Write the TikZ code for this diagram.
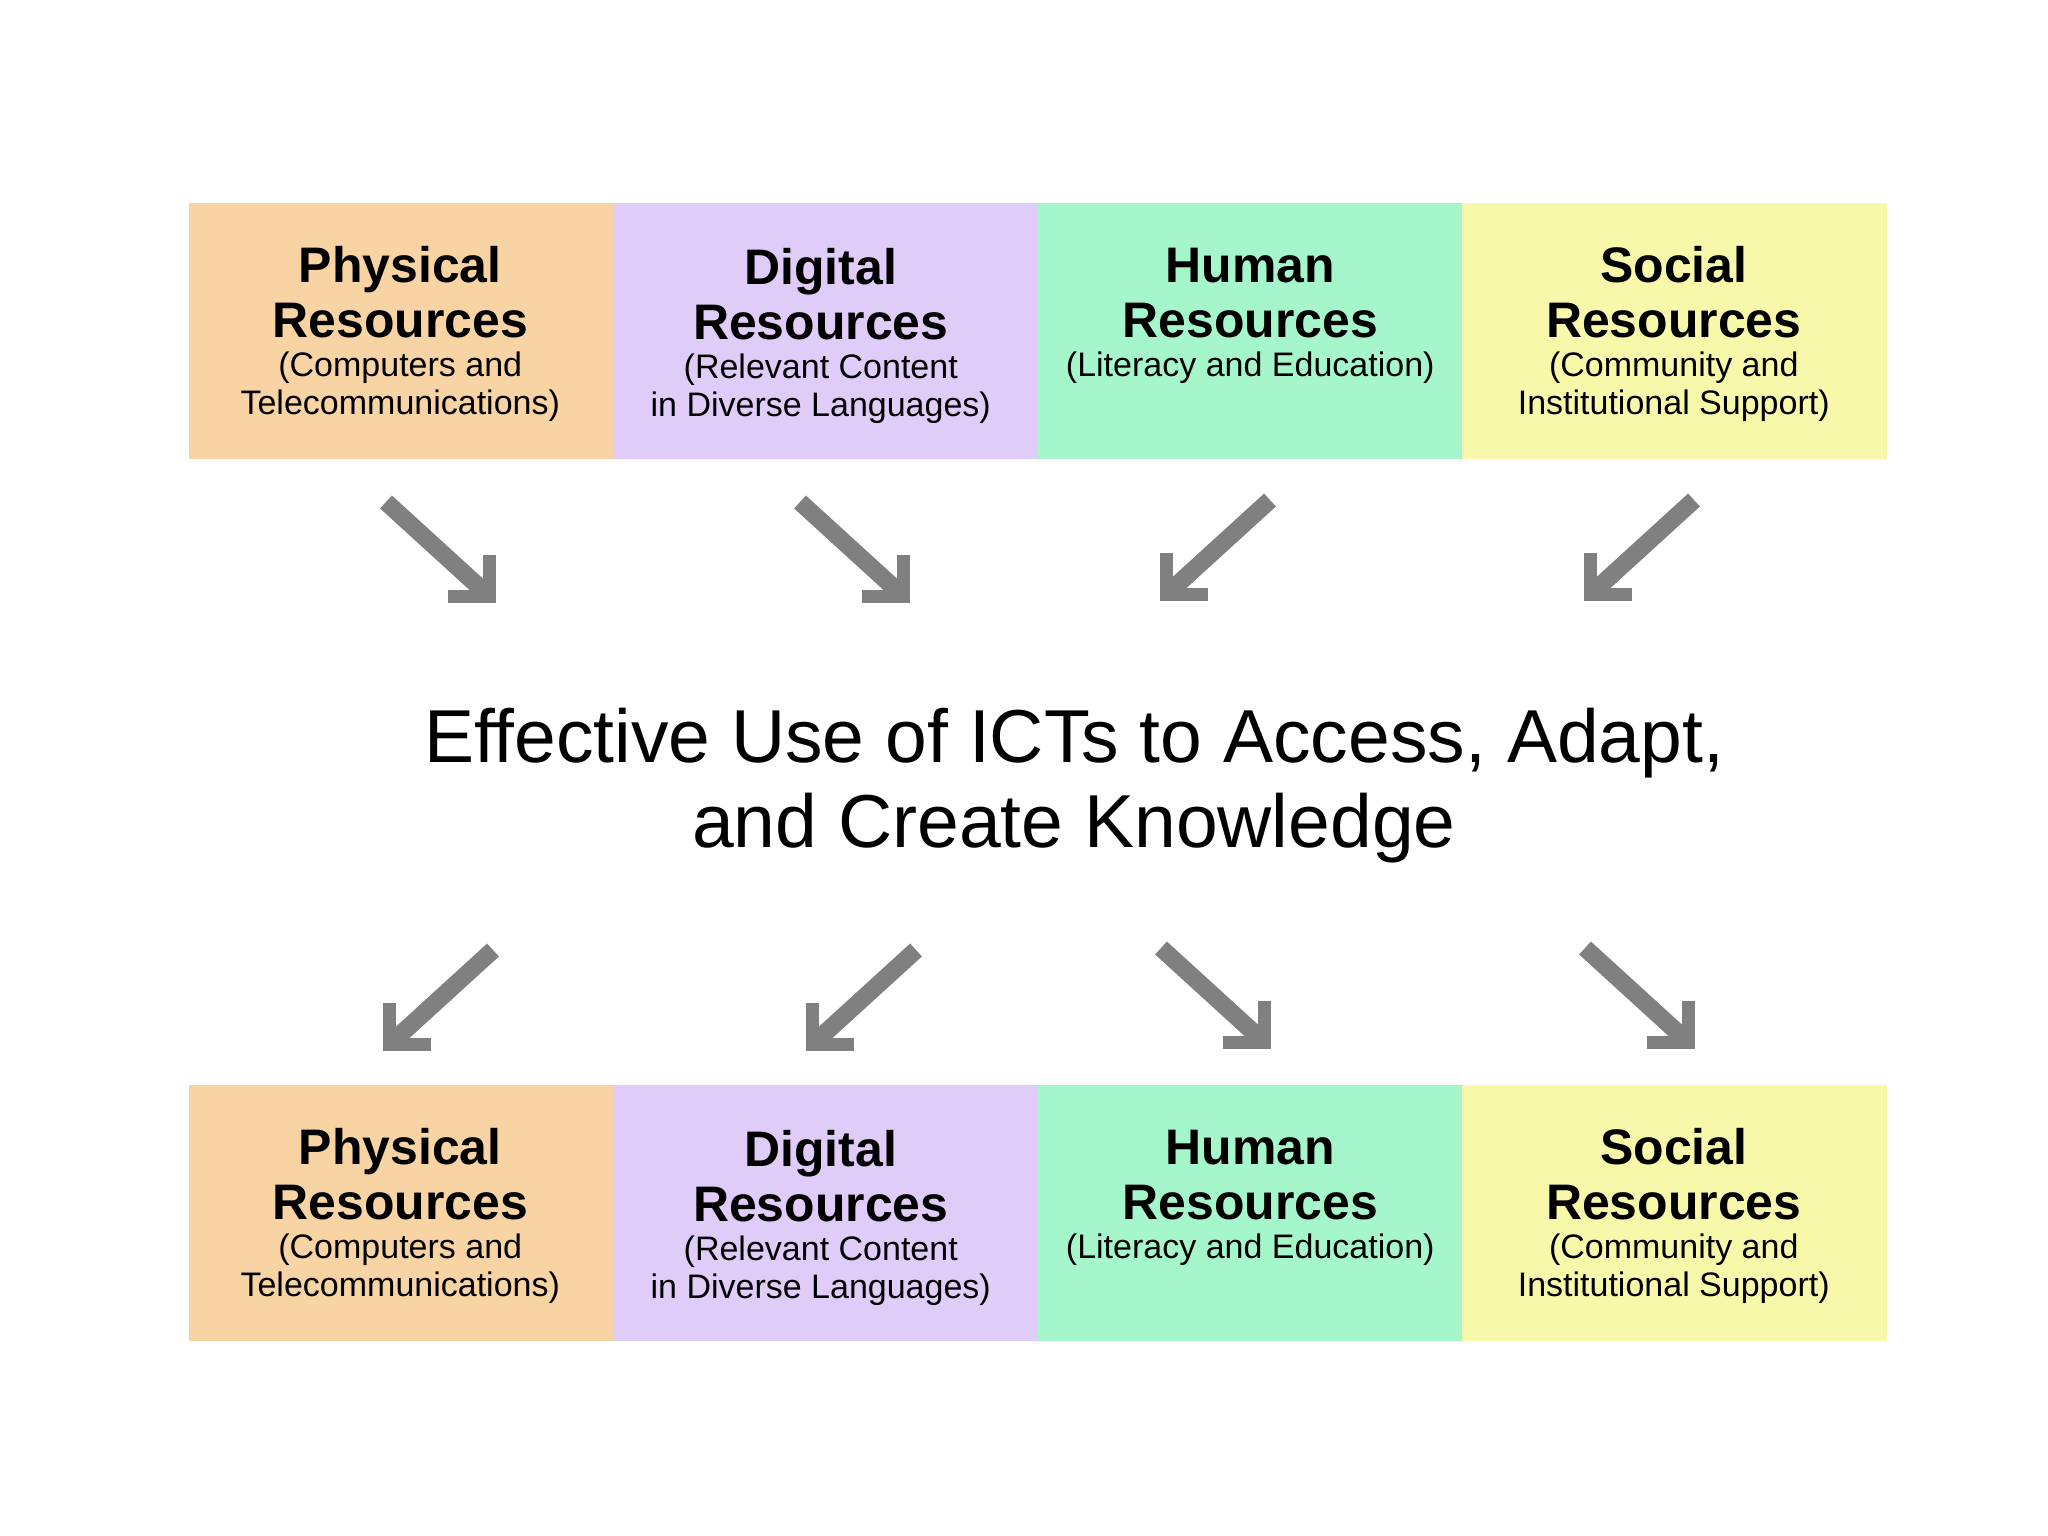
\documentclass[tikz,border=0pt]{standalone}
\usepackage{fontspec}
\setmainfont{Liberation Sans}
\usetikzlibrary{calc}
\definecolor{physcol}{RGB}{248,211,164}
\definecolor{digicol}{RGB}{224,204,248}
\definecolor{humacol}{RGB}{166,246,204}
\definecolor{socicol}{RGB}{248,248,170}
\definecolor{arrowgray}{RGB}{128,128,128}
\newcommand\resbox[9]{% name, x, y, text dx, text dy, colour, title1, title2, sub1
  \node[resrect, fill=#6] (#1) at (#2,#3) {};
  \node[titletext] (#1-t1) at ({#2+#4+212.25},{#3+#5+80}) {#7};
  \node[titletext] (#1-t2) at ({#2+#4+212.25},{#3+#5+135}) {#8};
  \node[subtext] (#1-s1) at ({#2+#4+212.25},{#3+#5+174}) {#9};
}
\newcommand\subtwo[2]{%
  \path (#1-s1.base) ++(0,38) node[subtext] (#1-s2) {#2};
}
\newcommand\searr[3]{% name, outer tip x, outer tip y
  \coordinate (#1-s) at ({#2-110},{#3-101});
  \coordinate (#1-e) at ({#2-8},{#3-8});
  \coordinate (#1-tip) at ({#2-6.5},{#3-6.5});
  \draw[shaftline] (#1-s) -- (#1-e);
  \draw[headline] ($(#1-tip)+(0,-41.5)$) -- (#1-tip) -- ++(-41.5,0);
}
\newcommand\swarr[3]{%
  \coordinate (#1-s) at ({#2+110},{#3-101});
  \coordinate (#1-e) at ({#2+8},{#3-8});
  \coordinate (#1-tip) at ({#2+6.5},{#3-6.5});
  \draw[shaftline] (#1-s) -- (#1-e);
  \draw[headline] ($(#1-tip)+(0,-41.5)$) -- (#1-tip) -- ++(41.5,0);
}
\begin{document}
\begin{tikzpicture}[x=0.01cm,y=-0.01cm,
  resrect/.style={rectangle, draw=none, inner sep=0pt, minimum width=4.245cm, minimum height=2.56cm, anchor=north west},
  titletext/.style={anchor=base, inner sep=0pt, font=\fontsize{14.2pt}{16pt}\selectfont\bfseries},
  subtext/.style={anchor=base, inner sep=0pt, font=\fontsize{9.67pt}{11pt}\selectfont},
  goaltext/.style={anchor=base, inner sep=0pt, font=\fontsize{21.34pt}{24pt}\selectfont},
  shaftline/.style={draw=arrowgray, line width=0.175cm, line cap=butt},
  headline/.style={draw=arrowgray, line width=0.13cm, line cap=butt, line join=miter}]
\fill[white] (0,0) rectangle (2048,1536);
\useasboundingbox (0,0) rectangle (2048,1536);
% top row
\resbox{p1}{188}{202}{0}{0}{physcol}{Physical}{Resources}{(Computers and}
\subtwo{p1}{Telecommunications)}
\resbox{d1}{612.5}{202}{-4}{2.5}{digicol}{Digital}{Resources}{(Relevant Content}
\subtwo{d1}{in Diverse Languages)}
\resbox{h1}{1037}{202}{1}{0}{humacol}{Human}{Resources}{(Literacy and Education)}
\resbox{s1}{1461.5}{202}{0}{0}{socicol}{Social}{Resources}{(Community and}
\subtwo{s1}{Institutional Support)}
% bottom row
\resbox{p2}{188}{1084}{0}{0}{physcol}{Physical}{Resources}{(Computers and}
\subtwo{p2}{Telecommunications)}
\resbox{d2}{612.5}{1084}{-4}{2.5}{digicol}{Digital}{Resources}{(Relevant Content}
\subtwo{d2}{in Diverse Languages)}
\resbox{h2}{1037}{1084}{1}{0}{humacol}{Human}{Resources}{(Literacy and Education)}
\resbox{s2}{1461.5}{1084}{0}{0}{socicol}{Social}{Resources}{(Community and}
\subtwo{s2}{Institutional Support)}
% centre text
\node[goaltext] (goal1) at (1074,762) {Effective Use of ICTs to Access, Adapt,};
\node[goaltext] (goal2) at (1074,847) {and Create Knowledge};
% arrows
\searr{a1}{496}{603}
\searr{a2}{910}{603}
\swarr{a3}{1160}{601}
\swarr{a4}{1584}{601}
\swarr{b1}{383}{1051}
\swarr{b2}{806}{1051}
\searr{b3}{1271}{1049}
\searr{b4}{1695}{1049}
\end{tikzpicture}
\end{document}
